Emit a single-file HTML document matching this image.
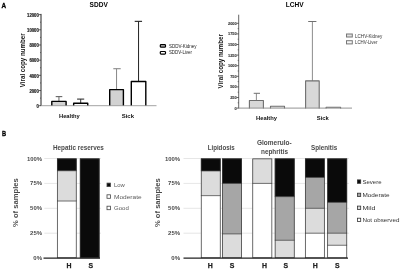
<!DOCTYPE html>
<html><head><meta charset="utf-8"><style>
html,body{margin:0;padding:0;background:#fff;width:401px;height:271px;overflow:hidden}
svg{display:block;font-family:"Liberation Sans", sans-serif;transform:translateZ(0)}
</style></head><body>
<svg width="401" height="271" viewBox="0 0 401 271">
<text x="1.6" y="7.6" font-size="6.8" font-weight="bold" text-anchor="start" fill="#000" stroke="#000" stroke-width="0.3" textLength="4.6" lengthAdjust="spacingAndGlyphs" >A</text>
<text x="2.1" y="136.4" font-size="6.6" font-weight="bold" text-anchor="start" fill="#000" stroke="#000" stroke-width="0.3" textLength="4.1" lengthAdjust="spacingAndGlyphs" >B</text>
<text x="98.7" y="6.8" font-size="7.2" font-weight="bold" text-anchor="middle" fill="#000" textLength="18.2" lengthAdjust="spacingAndGlyphs" >SDDV</text>
<line x1="41.0" y1="13.9" x2="41.0" y2="106.0" stroke="#222" stroke-width="1.0"/>
<line x1="39.0" y1="105.7" x2="41.0" y2="105.7" stroke="#333" stroke-width="0.75"/>
<text x="38.8" y="108.0" font-size="4.6" font-weight="bold" text-anchor="end" fill="#222" stroke="#222" stroke-width="0.2" textLength="2.35" lengthAdjust="spacingAndGlyphs" >0</text>
<line x1="40.0" y1="98.11" x2="41.0" y2="98.11" stroke="#333" stroke-width="0.6"/>
<line x1="39.0" y1="90.52000000000001" x2="41.0" y2="90.52000000000001" stroke="#333" stroke-width="0.75"/>
<text x="38.8" y="92.82000000000001" font-size="4.6" font-weight="bold" text-anchor="end" fill="#222" stroke="#222" stroke-width="0.2" textLength="9.4" lengthAdjust="spacingAndGlyphs" >2000</text>
<line x1="40.0" y1="82.93" x2="41.0" y2="82.93" stroke="#333" stroke-width="0.6"/>
<line x1="39.0" y1="75.34" x2="41.0" y2="75.34" stroke="#333" stroke-width="0.75"/>
<text x="38.8" y="77.64" font-size="4.6" font-weight="bold" text-anchor="end" fill="#222" stroke="#222" stroke-width="0.2" textLength="9.4" lengthAdjust="spacingAndGlyphs" >4000</text>
<line x1="40.0" y1="67.75" x2="41.0" y2="67.75" stroke="#333" stroke-width="0.6"/>
<line x1="39.0" y1="60.160000000000004" x2="41.0" y2="60.160000000000004" stroke="#333" stroke-width="0.75"/>
<text x="38.8" y="62.46" font-size="4.6" font-weight="bold" text-anchor="end" fill="#222" stroke="#222" stroke-width="0.2" textLength="9.4" lengthAdjust="spacingAndGlyphs" >6000</text>
<line x1="40.0" y1="52.57000000000001" x2="41.0" y2="52.57000000000001" stroke="#333" stroke-width="0.6"/>
<line x1="39.0" y1="44.980000000000004" x2="41.0" y2="44.980000000000004" stroke="#333" stroke-width="0.75"/>
<text x="38.8" y="47.28" font-size="4.6" font-weight="bold" text-anchor="end" fill="#222" stroke="#222" stroke-width="0.2" textLength="9.4" lengthAdjust="spacingAndGlyphs" >8000</text>
<line x1="40.0" y1="37.39" x2="41.0" y2="37.39" stroke="#333" stroke-width="0.6"/>
<line x1="39.0" y1="29.799999999999997" x2="41.0" y2="29.799999999999997" stroke="#333" stroke-width="0.75"/>
<text x="38.8" y="32.099999999999994" font-size="4.6" font-weight="bold" text-anchor="end" fill="#222" stroke="#222" stroke-width="0.2" textLength="11.75" lengthAdjust="spacingAndGlyphs" >10000</text>
<line x1="40.0" y1="22.209999999999997" x2="41.0" y2="22.209999999999997" stroke="#333" stroke-width="0.6"/>
<line x1="39.0" y1="14.620000000000005" x2="41.0" y2="14.620000000000005" stroke="#333" stroke-width="0.75"/>
<text x="38.8" y="16.920000000000005" font-size="4.6" font-weight="bold" text-anchor="end" fill="#222" stroke="#222" stroke-width="0.2" textLength="11.75" lengthAdjust="spacingAndGlyphs" >12000</text>
<text x="24.7" y="60.3" font-size="6.3" font-weight="bold" text-anchor="middle" fill="#111" textLength="53.8" lengthAdjust="spacingAndGlyphs" transform="rotate(-90 24.7 60.3)" >Viral copy number</text>
<line x1="58.949999999999996" y1="101.4" x2="58.949999999999996" y2="96.6" stroke="#666" stroke-width="1.0"/>
<line x1="55.7" y1="96.6" x2="62.3" y2="96.6" stroke="#666" stroke-width="1.1"/>
<rect x="51.8" y="101.4" width="14.299999999999997" height="4.299999999999997" fill="#d2d2d2" stroke="none" stroke-width="1"/>
<path d="M51.8,106.0 L51.8,101.4 L66.1,101.4 L66.1,106.0" fill="none" stroke="#000" stroke-width="1.4" stroke-linejoin="round"/>
<line x1="80.7" y1="103.25" x2="80.7" y2="99.1" stroke="#333" stroke-width="1.0"/>
<line x1="77.1" y1="99.1" x2="84.2" y2="99.1" stroke="#333" stroke-width="1.1"/>
<rect x="73.65" y="103.25" width="14.099999999999994" height="2.450000000000003" fill="#fff" stroke="none" stroke-width="1"/>
<path d="M73.65,106.0 L73.65,103.25 L87.75,103.25 L87.75,106.0" fill="none" stroke="#000" stroke-width="1.4" stroke-linejoin="round"/>
<line x1="116.55000000000001" y1="89.6" x2="116.55000000000001" y2="68.7" stroke="#888" stroke-width="1.0"/>
<line x1="113.3" y1="68.7" x2="120.7" y2="68.7" stroke="#888" stroke-width="1.1"/>
<rect x="109.7" y="89.6" width="13.700000000000003" height="16.10000000000001" fill="#d2d2d2" stroke="none" stroke-width="1"/>
<path d="M109.7,106.0 L109.7,89.6 L123.4,89.6 L123.4,106.0" fill="none" stroke="#000" stroke-width="1.4" stroke-linejoin="round"/>
<line x1="138.55" y1="81.5" x2="138.55" y2="21.35" stroke="#222" stroke-width="1.0"/>
<line x1="134.7" y1="21.35" x2="142.05" y2="21.35" stroke="#222" stroke-width="1.1"/>
<rect x="131.3" y="81.5" width="14.5" height="24.200000000000003" fill="#fff" stroke="none" stroke-width="1"/>
<path d="M131.3,106.0 L131.3,81.5 L145.8,81.5 L145.8,106.0" fill="none" stroke="#000" stroke-width="1.4" stroke-linejoin="round"/>
<line x1="41.0" y1="105.7" x2="156.5" y2="105.7" stroke="#999" stroke-width="0.9"/>
<text x="69.4" y="117.5" font-size="6.2" font-weight="bold" text-anchor="middle" fill="#111" textLength="20.8" lengthAdjust="spacingAndGlyphs" >Healthy</text>
<text x="127.85" y="117.5" font-size="6.2" font-weight="bold" text-anchor="middle" fill="#111" textLength="12.3" lengthAdjust="spacingAndGlyphs" >Sick</text>
<rect x="160.3" y="44.7" width="5.2" height="2.5" rx="0.8" fill="#cfcfcf" stroke="#000" stroke-width="1.2"/>
<rect x="160.3" y="51.5" width="5.2" height="2.6" rx="0.8" fill="#fff" stroke="#000" stroke-width="1.2"/>
<text x="168.9" y="48.0" font-size="5.0" font-weight="normal" text-anchor="start" fill="#222" textLength="27.5" lengthAdjust="spacingAndGlyphs" >SDDV-Kidney</text>
<text x="168.9" y="54.4" font-size="5.0" font-weight="normal" text-anchor="start" fill="#222" textLength="23.1" lengthAdjust="spacingAndGlyphs" >SDDV-Liver</text>
<text x="294.8" y="6.8" font-size="7.2" font-weight="bold" text-anchor="middle" fill="#000" textLength="17.9" lengthAdjust="spacingAndGlyphs" >LCHV</text>
<line x1="238.7" y1="14.7" x2="238.7" y2="108.39999999999999" stroke="#333" stroke-width="0.75"/>
<line x1="236.7" y1="108.1" x2="238.7" y2="108.1" stroke="#333" stroke-width="0.75"/>
<text x="236.6" y="109.5" font-size="4.1" font-weight="bold" text-anchor="end" fill="#333" stroke="#333" stroke-width="0.1" textLength="2.15" lengthAdjust="spacingAndGlyphs" >0</text>
<line x1="237.7" y1="102.8" x2="238.7" y2="102.8" stroke="#333" stroke-width="0.6"/>
<line x1="236.7" y1="97.5" x2="238.7" y2="97.5" stroke="#333" stroke-width="0.75"/>
<text x="236.6" y="98.9" font-size="4.1" font-weight="bold" text-anchor="end" fill="#333" stroke="#333" stroke-width="0.1" textLength="6.449999999999999" lengthAdjust="spacingAndGlyphs" >250</text>
<line x1="237.7" y1="92.2" x2="238.7" y2="92.2" stroke="#333" stroke-width="0.6"/>
<line x1="236.7" y1="86.89999999999999" x2="238.7" y2="86.89999999999999" stroke="#333" stroke-width="0.75"/>
<text x="236.6" y="88.3" font-size="4.1" font-weight="bold" text-anchor="end" fill="#333" stroke="#333" stroke-width="0.1" textLength="6.449999999999999" lengthAdjust="spacingAndGlyphs" >500</text>
<line x1="237.7" y1="81.6" x2="238.7" y2="81.6" stroke="#333" stroke-width="0.6"/>
<line x1="236.7" y1="76.3" x2="238.7" y2="76.3" stroke="#333" stroke-width="0.75"/>
<text x="236.6" y="77.7" font-size="4.1" font-weight="bold" text-anchor="end" fill="#333" stroke="#333" stroke-width="0.1" textLength="6.449999999999999" lengthAdjust="spacingAndGlyphs" >750</text>
<line x1="237.7" y1="71.0" x2="238.7" y2="71.0" stroke="#333" stroke-width="0.6"/>
<line x1="236.7" y1="65.69999999999999" x2="238.7" y2="65.69999999999999" stroke="#333" stroke-width="0.75"/>
<text x="236.6" y="67.1" font-size="4.1" font-weight="bold" text-anchor="end" fill="#333" stroke="#333" stroke-width="0.1" textLength="8.6" lengthAdjust="spacingAndGlyphs" >1000</text>
<line x1="237.7" y1="60.39999999999999" x2="238.7" y2="60.39999999999999" stroke="#333" stroke-width="0.6"/>
<line x1="236.7" y1="55.099999999999994" x2="238.7" y2="55.099999999999994" stroke="#333" stroke-width="0.75"/>
<text x="236.6" y="56.49999999999999" font-size="4.1" font-weight="bold" text-anchor="end" fill="#333" stroke="#333" stroke-width="0.1" textLength="8.6" lengthAdjust="spacingAndGlyphs" >1250</text>
<line x1="237.7" y1="49.8" x2="238.7" y2="49.8" stroke="#333" stroke-width="0.6"/>
<line x1="236.7" y1="44.5" x2="238.7" y2="44.5" stroke="#333" stroke-width="0.75"/>
<text x="236.6" y="45.9" font-size="4.1" font-weight="bold" text-anchor="end" fill="#333" stroke="#333" stroke-width="0.1" textLength="8.6" lengthAdjust="spacingAndGlyphs" >1500</text>
<line x1="237.7" y1="39.2" x2="238.7" y2="39.2" stroke="#333" stroke-width="0.6"/>
<line x1="236.7" y1="33.89999999999999" x2="238.7" y2="33.89999999999999" stroke="#333" stroke-width="0.75"/>
<text x="236.6" y="35.29999999999999" font-size="4.1" font-weight="bold" text-anchor="end" fill="#333" stroke="#333" stroke-width="0.1" textLength="8.6" lengthAdjust="spacingAndGlyphs" >1750</text>
<line x1="237.7" y1="28.59999999999999" x2="238.7" y2="28.59999999999999" stroke="#333" stroke-width="0.6"/>
<line x1="236.7" y1="23.299999999999997" x2="238.7" y2="23.299999999999997" stroke="#333" stroke-width="0.75"/>
<text x="236.6" y="24.699999999999996" font-size="4.1" font-weight="bold" text-anchor="end" fill="#333" stroke="#333" stroke-width="0.1" textLength="8.6" lengthAdjust="spacingAndGlyphs" >2000</text>
<text x="222.6" y="61.3" font-size="6.4" font-weight="bold" text-anchor="middle" fill="#111" textLength="54.4" lengthAdjust="spacingAndGlyphs" transform="rotate(-90 222.6 61.3)" >Viral copy number</text>
<line x1="256.4" y1="100.5" x2="256.4" y2="93.3" stroke="#707070" stroke-width="0.8"/>
<line x1="253.7" y1="93.3" x2="260.0" y2="93.3" stroke="#707070" stroke-width="1.0"/>
<rect x="249.4" y="100.5" width="13.999999999999972" height="7.599999999999994" fill="#d8d8d8" stroke="none" stroke-width="1"/>
<path d="M249.4,108.39999999999999 L249.4,100.5 L263.4,100.5 L263.4,108.39999999999999" fill="none" stroke="#6e6e6e" stroke-width="1.1" stroke-linejoin="round"/>
<rect x="270.5" y="106.3" width="14.0" height="1.7999999999999972" fill="#e8e8e8" stroke="none" stroke-width="1"/>
<path d="M270.5,108.39999999999999 L270.5,106.3 L284.5,106.3 L284.5,108.39999999999999" fill="none" stroke="#6e6e6e" stroke-width="1.1" stroke-linejoin="round"/>
<line x1="312.4" y1="80.9" x2="312.4" y2="21.5" stroke="#707070" stroke-width="0.8"/>
<line x1="308.2" y1="21.5" x2="316.4" y2="21.5" stroke="#707070" stroke-width="1.0"/>
<rect x="305.6" y="80.9" width="13.599999999999966" height="27.19999999999999" fill="#d8d8d8" stroke="none" stroke-width="1"/>
<path d="M305.6,108.39999999999999 L305.6,80.9 L319.2,80.9 L319.2,108.39999999999999" fill="none" stroke="#6e6e6e" stroke-width="1.1" stroke-linejoin="round"/>
<rect x="326.1" y="107.3" width="14.5" height="0.7999999999999972" fill="#e8e8e8" stroke="none" stroke-width="1"/>
<path d="M326.1,108.39999999999999 L326.1,107.3 L340.6,107.3 L340.6,108.39999999999999" fill="none" stroke="#6e6e6e" stroke-width="1.1" stroke-linejoin="round"/>
<line x1="238.7" y1="108.1" x2="352" y2="108.1" stroke="#888" stroke-width="0.9"/>
<text x="266.6" y="119.6" font-size="6.2" font-weight="bold" text-anchor="middle" fill="#111" textLength="21.0" lengthAdjust="spacingAndGlyphs" >Healthy</text>
<text x="322.85" y="119.6" font-size="6.2" font-weight="bold" text-anchor="middle" fill="#111" textLength="12.1" lengthAdjust="spacingAndGlyphs" >Sick</text>
<rect x="346.5" y="34.0" width="5.8" height="3.0" fill="#e0e0e0" stroke="#777" stroke-width="1.0"/>
<rect x="346.5" y="40.7" width="5.8" height="3.2" fill="#f4f4f4" stroke="#777" stroke-width="1.0"/>
<text x="355.0" y="37.5" font-size="5.0" font-weight="normal" text-anchor="start" fill="#333" textLength="27.4" lengthAdjust="spacingAndGlyphs" >LCHV-Kidney</text>
<text x="355.0" y="44.3" font-size="5.0" font-weight="normal" text-anchor="start" fill="#333" textLength="22.4" lengthAdjust="spacingAndGlyphs" >LCHV-Liver</text>
<line x1="44.3" y1="233.20000000000002" x2="101" y2="233.20000000000002" stroke="#dedede" stroke-width="0.75"/>
<line x1="44.3" y1="208.3" x2="101" y2="208.3" stroke="#dedede" stroke-width="0.75"/>
<line x1="44.3" y1="183.4" x2="101" y2="183.4" stroke="#dedede" stroke-width="0.75"/>
<line x1="44.3" y1="158.5" x2="101" y2="158.5" stroke="#dedede" stroke-width="0.75"/>
<text x="42.1" y="260.1" font-size="5.6" font-weight="bold" text-anchor="end" fill="#4a4a4a" textLength="8.8" lengthAdjust="spacingAndGlyphs" >0%</text>
<text x="42.1" y="235.20000000000002" font-size="5.6" font-weight="bold" text-anchor="end" fill="#4a4a4a" textLength="12.0" lengthAdjust="spacingAndGlyphs" >25%</text>
<text x="42.1" y="210.3" font-size="5.6" font-weight="bold" text-anchor="end" fill="#4a4a4a" textLength="12.0" lengthAdjust="spacingAndGlyphs" >50%</text>
<text x="42.1" y="185.4" font-size="5.6" font-weight="bold" text-anchor="end" fill="#4a4a4a" textLength="12.0" lengthAdjust="spacingAndGlyphs" >75%</text>
<text x="42.1" y="160.5" font-size="5.6" font-weight="bold" text-anchor="end" fill="#4a4a4a" textLength="15.200000000000001" lengthAdjust="spacingAndGlyphs" >100%</text>
<rect x="57.0" y="201.0292" width="19.599999999999994" height="57.07080000000002" fill="#ffffff" stroke="none" stroke-width="1"/>
<rect x="57.0" y="170.7508" width="19.599999999999994" height="30.278400000000005" fill="#dcdcdc" stroke="none" stroke-width="1"/>
<rect x="57.0" y="158.5" width="19.599999999999994" height="12.250799999999998" fill="#0a0a0a" stroke="none" stroke-width="1"/>
<line x1="57.0" y1="201.0292" x2="76.6" y2="201.0292" stroke="#3a3a3a" stroke-width="0.7"/>
<line x1="57.0" y1="170.7508" x2="76.6" y2="170.7508" stroke="#3a3a3a" stroke-width="0.7"/>
<rect x="57.35" y="158.85" width="18.899999999999995" height="98.90000000000002" fill="none" stroke="#3a3a3a" stroke-width="0.75"/>
<rect x="79.9" y="158.5" width="19.599999999999994" height="99.60000000000002" fill="#0a0a0a" stroke="none" stroke-width="1"/>
<rect x="80.25" y="158.85" width="18.899999999999995" height="98.90000000000002" fill="none" stroke="#3a3a3a" stroke-width="0.75"/>
<line x1="43.5" y1="258.1" x2="100" y2="258.1" stroke="#222" stroke-width="1.1"/>
<text x="18.3" y="202.6" font-size="7.4" font-weight="bold" text-anchor="middle" fill="#4a4a4a" textLength="48.8" lengthAdjust="spacingAndGlyphs" transform="rotate(-90 18.3 202.6)" >% of samples</text>
<text x="78.45" y="150.2" font-size="6.9" font-weight="bold" text-anchor="middle" fill="#4a4a4a" textLength="50.9" lengthAdjust="spacingAndGlyphs" >Hepatic reserves</text>
<text x="69.0" y="268.1" font-size="6.9" font-weight="bold" text-anchor="middle" fill="#222" stroke="#222" stroke-width="0.25" >H</text>
<text x="90.8" y="268.1" font-size="6.9" font-weight="bold" text-anchor="middle" fill="#222" stroke="#222" stroke-width="0.25" >S</text>
<rect x="107.0" y="183.1" width="3.4" height="3.5" fill="#0a0a0a" stroke="#444" stroke-width="0.8"/>
<text x="114.0" y="187.0" font-size="6.2" font-weight="normal" text-anchor="start" fill="#5a5a5a" textLength="10.8" lengthAdjust="spacingAndGlyphs" >Low</text>
<rect x="107.0" y="194.79999999999998" width="3.4" height="3.5" fill="#ffffff" stroke="#444" stroke-width="0.8"/>
<text x="114.0" y="198.7" font-size="6.2" font-weight="normal" text-anchor="start" fill="#5a5a5a" textLength="27.6" lengthAdjust="spacingAndGlyphs" >Moderate</text>
<rect x="107.0" y="206.2" width="3.4" height="3.5" fill="#ffffff" stroke="#444" stroke-width="0.8"/>
<text x="114.0" y="210.1" font-size="6.2" font-weight="normal" text-anchor="start" fill="#5a5a5a" textLength="14.8" lengthAdjust="spacingAndGlyphs" >Good</text>
<text x="159.7" y="202.7" font-size="7.4" font-weight="bold" text-anchor="middle" fill="#4a4a4a" textLength="48.8" lengthAdjust="spacingAndGlyphs" transform="rotate(-90 159.7 202.7)" >% of samples</text>
<line x1="183.5" y1="233.20000000000002" x2="349" y2="233.20000000000002" stroke="#dedede" stroke-width="0.75"/>
<line x1="183.5" y1="208.3" x2="349" y2="208.3" stroke="#dedede" stroke-width="0.75"/>
<line x1="183.5" y1="183.4" x2="349" y2="183.4" stroke="#dedede" stroke-width="0.75"/>
<line x1="183.5" y1="158.5" x2="349" y2="158.5" stroke="#dedede" stroke-width="0.75"/>
<text x="180.1" y="260.1" font-size="5.6" font-weight="bold" text-anchor="end" fill="#4a4a4a" textLength="8.8" lengthAdjust="spacingAndGlyphs" >0%</text>
<text x="180.1" y="235.20000000000002" font-size="5.6" font-weight="bold" text-anchor="end" fill="#4a4a4a" textLength="12.0" lengthAdjust="spacingAndGlyphs" >25%</text>
<text x="180.1" y="210.3" font-size="5.6" font-weight="bold" text-anchor="end" fill="#4a4a4a" textLength="12.0" lengthAdjust="spacingAndGlyphs" >50%</text>
<text x="180.1" y="185.4" font-size="5.6" font-weight="bold" text-anchor="end" fill="#4a4a4a" textLength="12.0" lengthAdjust="spacingAndGlyphs" >75%</text>
<text x="180.1" y="160.5" font-size="5.6" font-weight="bold" text-anchor="end" fill="#4a4a4a" textLength="15.200000000000001" lengthAdjust="spacingAndGlyphs" >100%</text>
<rect x="200.9" y="195.6508" width="19.69999999999999" height="62.44920000000002" fill="#ffffff" stroke="none" stroke-width="1"/>
<rect x="200.9" y="170.95" width="19.69999999999999" height="24.700800000000015" fill="#dcdcdc" stroke="none" stroke-width="1"/>
<rect x="200.9" y="158.5" width="19.69999999999999" height="12.449999999999989" fill="#0a0a0a" stroke="none" stroke-width="1"/>
<line x1="200.9" y1="195.6508" x2="220.6" y2="195.6508" stroke="#3a3a3a" stroke-width="0.7"/>
<line x1="200.9" y1="170.95" x2="220.6" y2="170.95" stroke="#3a3a3a" stroke-width="0.7"/>
<rect x="201.25" y="158.85" width="18.99999999999999" height="98.90000000000002" fill="none" stroke="#3a3a3a" stroke-width="0.75"/>
<rect x="222.1" y="233.89720000000003" width="19.80000000000001" height="24.202799999999996" fill="#dcdcdc" stroke="none" stroke-width="1"/>
<rect x="222.1" y="183.4" width="19.80000000000001" height="50.49720000000002" fill="#a6a6a6" stroke="none" stroke-width="1"/>
<rect x="222.1" y="158.5" width="19.80000000000001" height="24.900000000000006" fill="#0a0a0a" stroke="none" stroke-width="1"/>
<line x1="222.1" y1="233.89720000000003" x2="241.9" y2="233.89720000000003" stroke="#3a3a3a" stroke-width="0.7"/>
<line x1="222.1" y1="183.4" x2="241.9" y2="183.4" stroke="#3a3a3a" stroke-width="0.7"/>
<rect x="222.45" y="158.85" width="19.100000000000012" height="98.90000000000002" fill="none" stroke="#3a3a3a" stroke-width="0.75"/>
<rect x="252.4" y="183.4" width="19.799999999999983" height="74.70000000000002" fill="#ffffff" stroke="none" stroke-width="1"/>
<rect x="252.4" y="158.5" width="19.799999999999983" height="24.900000000000006" fill="#dcdcdc" stroke="none" stroke-width="1"/>
<line x1="252.4" y1="183.4" x2="272.2" y2="183.4" stroke="#3a3a3a" stroke-width="0.7"/>
<rect x="252.75" y="158.85" width="19.099999999999984" height="98.90000000000002" fill="none" stroke="#3a3a3a" stroke-width="0.75"/>
<rect x="274.8" y="240.27160000000003" width="19.80000000000001" height="17.828399999999988" fill="#dcdcdc" stroke="none" stroke-width="1"/>
<rect x="274.8" y="196.6468" width="19.80000000000001" height="43.62480000000002" fill="#a6a6a6" stroke="none" stroke-width="1"/>
<rect x="274.8" y="158.5" width="19.80000000000001" height="38.14680000000001" fill="#0a0a0a" stroke="none" stroke-width="1"/>
<line x1="274.8" y1="240.27160000000003" x2="294.6" y2="240.27160000000003" stroke="#3a3a3a" stroke-width="0.7"/>
<line x1="274.8" y1="196.6468" x2="294.6" y2="196.6468" stroke="#3a3a3a" stroke-width="0.7"/>
<rect x="275.15000000000003" y="158.85" width="19.100000000000012" height="98.90000000000002" fill="none" stroke="#3a3a3a" stroke-width="0.75"/>
<rect x="305.0" y="233.20000000000002" width="19.69999999999999" height="24.900000000000006" fill="#ffffff" stroke="none" stroke-width="1"/>
<rect x="305.0" y="208.3" width="19.69999999999999" height="24.900000000000006" fill="#dcdcdc" stroke="none" stroke-width="1"/>
<rect x="305.0" y="177.42399999999998" width="19.69999999999999" height="30.876000000000033" fill="#a6a6a6" stroke="none" stroke-width="1"/>
<rect x="305.0" y="158.5" width="19.69999999999999" height="18.923999999999978" fill="#0a0a0a" stroke="none" stroke-width="1"/>
<line x1="305.0" y1="233.20000000000002" x2="324.7" y2="233.20000000000002" stroke="#3a3a3a" stroke-width="0.7"/>
<line x1="305.0" y1="208.3" x2="324.7" y2="208.3" stroke="#3a3a3a" stroke-width="0.7"/>
<line x1="305.0" y1="177.42399999999998" x2="324.7" y2="177.42399999999998" stroke="#3a3a3a" stroke-width="0.7"/>
<rect x="305.35" y="158.85" width="18.99999999999999" height="98.90000000000002" fill="none" stroke="#3a3a3a" stroke-width="0.75"/>
<rect x="327.3" y="245.25160000000002" width="19.80000000000001" height="12.848399999999998" fill="#ffffff" stroke="none" stroke-width="1"/>
<rect x="327.3" y="233.20000000000002" width="19.80000000000001" height="12.051600000000008" fill="#dcdcdc" stroke="none" stroke-width="1"/>
<rect x="327.3" y="202.324" width="19.80000000000001" height="30.876000000000005" fill="#a6a6a6" stroke="none" stroke-width="1"/>
<rect x="327.3" y="158.5" width="19.80000000000001" height="43.82400000000001" fill="#0a0a0a" stroke="none" stroke-width="1"/>
<line x1="327.3" y1="245.25160000000002" x2="347.1" y2="245.25160000000002" stroke="#3a3a3a" stroke-width="0.7"/>
<line x1="327.3" y1="233.20000000000002" x2="347.1" y2="233.20000000000002" stroke="#3a3a3a" stroke-width="0.7"/>
<line x1="327.3" y1="202.324" x2="347.1" y2="202.324" stroke="#3a3a3a" stroke-width="0.7"/>
<rect x="327.65000000000003" y="158.85" width="19.100000000000012" height="98.90000000000002" fill="none" stroke="#3a3a3a" stroke-width="0.75"/>
<line x1="183.5" y1="258.1" x2="348" y2="258.1" stroke="#222" stroke-width="1.1"/>
<text x="221.2" y="150.1" font-size="6.9" font-weight="bold" text-anchor="middle" fill="#4a4a4a" textLength="27.0" lengthAdjust="spacingAndGlyphs" >Lipidosis</text>
<text x="274.3" y="145.0" font-size="6.9" font-weight="bold" text-anchor="middle" fill="#4a4a4a" textLength="34.6" lengthAdjust="spacingAndGlyphs" >Glomerulo-</text>
<text x="274.5" y="154.0" font-size="6.9" font-weight="bold" text-anchor="middle" fill="#4a4a4a" textLength="27.0" lengthAdjust="spacingAndGlyphs" >nephritis</text>
<text x="324.1" y="150.1" font-size="6.9" font-weight="bold" text-anchor="middle" fill="#4a4a4a" textLength="26.2" lengthAdjust="spacingAndGlyphs" >Splenitis</text>
<text x="210.3" y="268.2" font-size="6.9" font-weight="bold" text-anchor="middle" fill="#222" stroke="#222" stroke-width="0.25" >H</text>
<text x="264.4" y="268.2" font-size="6.9" font-weight="bold" text-anchor="middle" fill="#222" stroke="#222" stroke-width="0.25" >H</text>
<text x="315.3" y="268.2" font-size="6.9" font-weight="bold" text-anchor="middle" fill="#222" stroke="#222" stroke-width="0.25" >H</text>
<text x="232.1" y="268.2" font-size="6.9" font-weight="bold" text-anchor="middle" fill="#222" stroke="#222" stroke-width="0.25" >S</text>
<text x="285.8" y="268.2" font-size="6.9" font-weight="bold" text-anchor="middle" fill="#222" stroke="#222" stroke-width="0.25" >S</text>
<text x="337.2" y="268.2" font-size="6.9" font-weight="bold" text-anchor="middle" fill="#222" stroke="#222" stroke-width="0.25" >S</text>
<rect x="357.4" y="179.9" width="3.3" height="3.4" fill="#0a0a0a" stroke="#333" stroke-width="0.8"/>
<text x="362.4" y="183.6" font-size="6.2" font-weight="normal" text-anchor="start" fill="#333" textLength="19.1" lengthAdjust="spacingAndGlyphs" >Severe</text>
<rect x="357.4" y="193.20000000000002" width="3.3" height="3.4" fill="#a6a6a6" stroke="#333" stroke-width="0.8"/>
<text x="362.4" y="196.9" font-size="6.2" font-weight="normal" text-anchor="start" fill="#333" textLength="27.1" lengthAdjust="spacingAndGlyphs" >Moderate</text>
<rect x="357.4" y="206.10000000000002" width="3.3" height="3.4" fill="#dcdcdc" stroke="#333" stroke-width="0.8"/>
<text x="362.4" y="209.8" font-size="6.2" font-weight="normal" text-anchor="start" fill="#333" textLength="13.1" lengthAdjust="spacingAndGlyphs" >Mild</text>
<rect x="357.4" y="218.20000000000002" width="3.3" height="3.4" fill="#ffffff" stroke="#333" stroke-width="0.8"/>
<text x="362.4" y="221.9" font-size="6.2" font-weight="normal" text-anchor="start" fill="#333" textLength="37.0" lengthAdjust="spacingAndGlyphs" >Not observed</text>
</svg>
</body></html>
